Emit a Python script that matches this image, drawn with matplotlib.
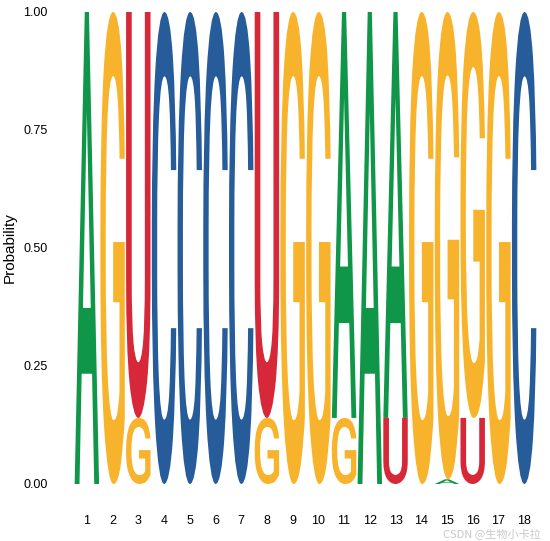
import matplotlib
matplotlib.use("Agg")
import matplotlib.pyplot as plt
from matplotlib.textpath import TextPath
from matplotlib.patches import PathPatch
from matplotlib.font_manager import FontProperties
from matplotlib.path import Path

# probability of each base at positions 1..18
positions = list(range(1, 19))
prob_A = [1.00, 0, 0, 0, 0, 0, 0, 0, 0, 0, 0.86, 1.00, 0.86, 0, 0.01, 0, 0, 0]
prob_C = [0, 0, 0, 1.00, 1.00, 1.00, 1.00, 0, 0, 0, 0, 0, 0, 0, 0, 0, 0, 1.00]
prob_G = [0, 1.00, 0.14, 0, 0, 0, 0, 0.14, 1.00, 1.00, 0.14, 0, 0, 1.00, 0.99, 0.86, 1.00, 0]
prob_U = [0, 0, 0.86, 0, 0, 0, 0, 0.86, 0, 0, 0, 0, 0.14, 0, 0, 0.14, 0, 0]

y_ticks = [0.0, 0.25, 0.5, 0.75, 1.0]
y_ticklabels = ["0.00", "0.25", "0.50", "0.75", "1.00"]

colors = {'A': '#109648', 'C': '#255C99', 'G': '#F7B32B', 'U': '#D62839'}

fp = FontProperties(family='Roboto', weight='medium')
letter_width = 0.95


def letter_patch(ch, xc, y0, h, color):
    # stretch the glyph outline so it fills the box
    tp = TextPath((0, 0), ch, size=1, prop=fp)
    bb = tp.get_extents()
    verts = tp.vertices.copy()
    verts[:, 0] = (verts[:, 0] - bb.x0) / bb.width * letter_width + xc - letter_width / 2
    verts[:, 1] = (verts[:, 1] - bb.y0) / bb.height * h + y0
    return PathPatch(Path(verts, tp.codes), facecolor=color, edgecolor='none', lw=0)


plt.rcParams['font.family'] = ['Liberation Sans', 'DejaVu Sans']

fig = plt.figure(figsize=(5.5, 5.41), dpi=100)
ax = fig.add_axes([74 / 550, 57 / 541, 463 / 550, 472 / 541])

for i, pos in enumerate(positions):
    col = {'A': prob_A[i], 'C': prob_C[i], 'G': prob_G[i], 'U': prob_U[i]}
    # smallest at the bottom, largest on top
    y = 0.0
    for base, p in sorted(col.items(), key=lambda kv: kv[1]):
        if p <= 0:
            continue
        ax.add_patch(letter_patch(base, pos, y, p, colors[base]))
        y += p

ax.set_xlim(0.5, 18.5)
ax.set_ylim(0, 1)
ax.set_xticks(positions)
ax.set_xticklabels([str(p) for p in positions])
ax.set_yticks(y_ticks)
ax.set_yticklabels(y_ticklabels)
ax.tick_params(axis='x', length=0, pad=22, labelsize=9, colors='black')
ax.tick_params(axis='y', length=0, pad=19, labelsize=9, colors='black')
for s in ax.spines.values():
    s.set_visible(False)

fig.text(10 / 550, 1 - 248 / 541, "Probability", rotation=90, ha='center', va='center',
         fontsize=11)

fig.text(0.983, 0.004, "CSDN @生物小卡拉", ha='right', va='bottom', fontsize=8,
         color='#c8c8c8', family=['Noto Sans CJK SC', 'DejaVu Sans'])

fig.savefig("out.png", dpi=100)
